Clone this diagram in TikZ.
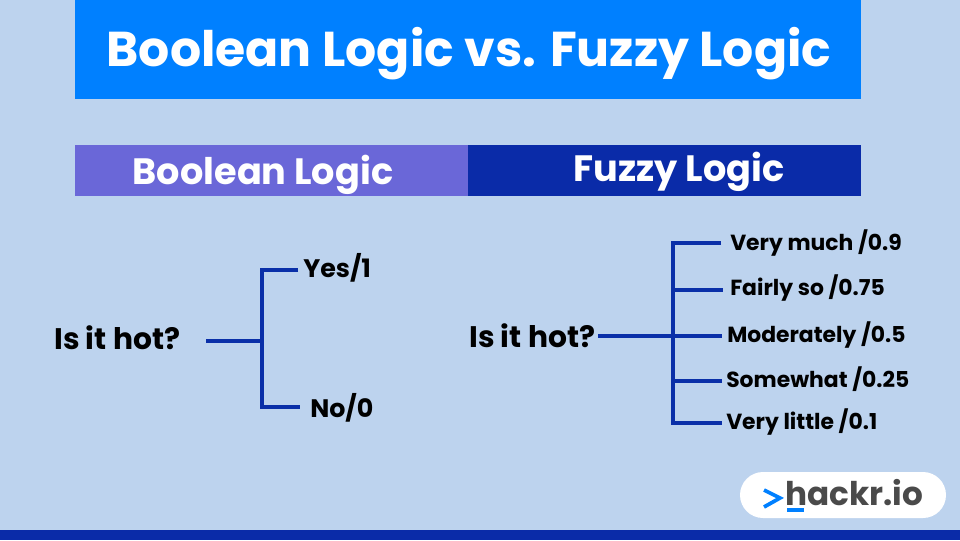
\documentclass[tikz,border=0pt]{standalone}
\usepackage{fontspec}
\setmainfont{Poppins}[BoldFont={Poppins Bold}]
\definecolor{bgc}{HTML}{BDD3EE}
\definecolor{blue1}{HTML}{0080FF}
\definecolor{purp}{HTML}{6A67D8}
\definecolor{navy}{HTML}{0A2BA8}
\definecolor{ln}{HTML}{0A2FA8}
\definecolor{logoc}{HTML}{4A4A4A}
\newlength{\pxx}\setlength{\pxx}{0.75pt}
\tikzset{
 lab/.style={inner sep=0pt,font=\bfseries,text=black,anchor=base west},
 qlab/.style={lab,font=\bfseries\fontsize{22.3}{22.3}\selectfont},
 blab/.style={lab,font=\bfseries\fontsize{19}{19}\selectfont},
 flab/.style={lab,font=\bfseries\fontsize{16.4}{16.4}\selectfont},
 head/.style={inner sep=0pt,text=white,font=\bfseries\fontsize{27.5}{27.5}\selectfont},
 conn/.style={draw=ln,line width=2.6pt,line cap=butt}
}
\begin{document}
\begin{tikzpicture}[x=0.75pt,y=-0.75pt]
\useasboundingbox (0,0) rectangle (960,540);
\fill[bgc] (0,0) rectangle (960,540);
\fill[navy] (0,530) rectangle (960,540);
\fill[blue1] (75,0) rectangle (861,99);
\node[inner sep=0pt,text=white,font=\bfseries\fontsize{36.7}{36.7}\selectfont] (title) at (469,54) {Boolean Logic vs. Fuzzy Logic};
\fill[purp] (75,145) rectangle (468,196);
\fill[navy] (468,145) rectangle (861,196);
\node[head] (bl) at (263,175) {Boolean Logic};
\node[head] (fl) at (679,172) {Fuzzy Logic};
% left
\node[qlab] (q1) at (54,349) {Is it hot?};
\node[blab] (yes) at (303,277) {Yes/1};
\node[blab] (no) at (310,417) {No/0};
\coordinate (s1) at (206,341);
\coordinate (j1) at (262,341);
\coordinate (ty) at (262,270);
\coordinate (ny) at (262,407);
\coordinate (ey) at (298,270);
\coordinate (en) at (300,407);
\draw[conn] (s1) -- (j1);
\draw[conn] (ey) -- (ty) -- (ny) -- (en);
% right
\node[qlab] (q2) at (469,347) {Is it hot?};
\node[flab] (a) at (730,250) {Very much /0.9};
\node[flab] (b) at (730,295) {Fairly so /0.75};
\node[flab] (c) at (727,342) {Moderately /0.5};
\node[flab] (d) at (726,387) {Somewhat /0.25};
\node[flab] (e) at (726,429) {Very little /0.1};
\coordinate (s2) at (598,336);
\coordinate (ja) at (673,243);
\coordinate (jb) at (673,290);
\coordinate (jc) at (673,336);
\coordinate (jd) at (673,381);
\coordinate (je) at (673,423);
\coordinate (ea) at (721,243);
\coordinate (eb) at (723,290);
\coordinate (ec) at (722,336);
\coordinate (ed) at (722,381);
\coordinate (ee) at (722,423);
\draw[conn] (s2) -- (jc);
\draw[conn] (ea) -- (ja) -- (je) -- (ee);
\draw[conn] (jb) -- (eb);
\draw[conn] (jc) -- (ec);
\draw[conn] (jd) -- (ed);
% logo
\fill[white,rounded corners=23\pxx] (740,472) rectangle (946,518);
\node[inner sep=0pt,anchor=base west,font=\bfseries\fontsize{24.5}{24.5}\selectfont,text=logoc] (logo) at (785,505) {hackr.io};
\draw[blue1,line width=2.8pt,line join=miter] (764,490) -- (780,498) -- (764,507);
\fill[blue1] (787,508) rectangle (804,512);
\end{tikzpicture}
\end{document}
